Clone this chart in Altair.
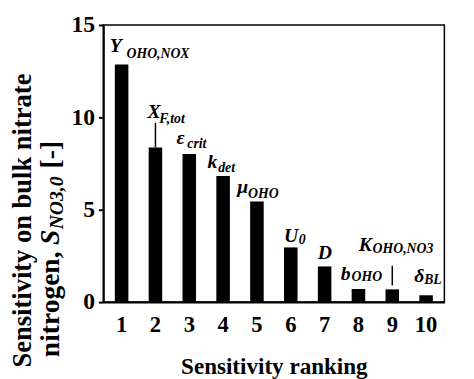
import altair as alt
import pandas as pd

# ---- data ----
ranks = [1, 2, 3, 4, 5, 6, 7, 8, 9, 10]
values = [12.86, 8.37, 8.01, 6.82, 5.44, 2.96, 1.93, 0.71, 0.69, 0.37]
symbols = ["Y", "X", "ε", "k", "μ", "U", "D", "b", "K", "δ"]
subscripts = ["OHO,NOX", "F,tot", "crit", "det", "OHO", "0", "", "OHO", "OHO,NO3", "BL"]
leader_ranks = [2, 9]
y_ticks = [0, 5, 10, 15]
x_title = "Sensitivity ranking"
y_title_line1 = "Sensitivity on bulk nitrate"
y_title_line2 = ["nitrogen,", "S", "NO3,0", "[-]"]

# ---- layout (pixels) ----
W, H = 347, 282
TOP = 22  # plot top in page pixels
PX_PER_UNIT = H / 15.0
FONT = "Liberation Serif"
# (main dx, main dy, sub dx, sub dy) relative to bar centre / bar top
label_offsets = [
    (-12, -13, 5, -7),
    (-8, -30, 4, -25),
    (-13, -10, -2, -6),
    (-16, -8, -5, -4),
    (-20, -9, -9, -4),
    (-7, -6, 8, -3),
    (-7, -8, 0, 0),
    (-18, -9, -7, -8),
    (-34, -39, -20, -37),
    (-12, -14, -2, -11),
]
leader_px = {2: (0, 25), 9: (4, 24)}

df = pd.DataFrame({"rank": [str(r) for r in ranks], "value": values,
                   "sym": symbols, "sub": subscripts})
rank_order = [str(r) for r in ranks]

x_enc = alt.X("rank:N", sort=rank_order,
              scale=alt.Scale(paddingInner=0.6, paddingOuter=0.34),
              axis=alt.Axis(title=None, labelAngle=0, ticks=False, labelPadding=12,
                            labelFont=FONT, labelFontSize=23, labelFontWeight="bold",
                            labelColor="black", domainColor="black", domainWidth=2))
y_scale = alt.Scale(domain=[0, 15], nice=False)
y_enc = alt.Y("value:Q", scale=y_scale,
              axis=alt.Axis(title=None, values=y_ticks, grid=False, tickSize=5,
                            tickWidth=2, tickColor="black", labelPadding=4,
                            labelFont=FONT, labelFontSize=24, labelFontWeight="bold",
                            labelColor="black", domainColor="black", domainWidth=2))

base = alt.Chart(df)
layers = [base.mark_bar(color="black").encode(x=x_enc, y=y_enc)]

for i, (r, s, sb) in enumerate(zip(ranks, symbols, subscripts)):
    mdx, mdy, sdx, sdy = label_offsets[i]
    c = alt.Chart(df[df["rank"] == str(r)])
    layers.append(c.mark_text(font=FONT, fontSize=20, fontWeight="bold", fontStyle="italic",
                              align="left", baseline="alphabetic", dx=mdx, dy=mdy,
                              color="black")
                  .encode(x=alt.X("rank:N", sort=rank_order),
                          y=alt.Y("value:Q", scale=y_scale), text="sym:N"))
    if sb:
        layers.append(c.mark_text(font=FONT, fontSize=14, fontWeight="bold", fontStyle="italic",
                                  align="left", baseline="alphabetic", dx=sdx, dy=sdy,
                                  color="black")
                      .encode(x=alt.X("rank:N", sort=rank_order),
                              y=alt.Y("value:Q", scale=y_scale), text="sub:N"))

for r in leader_ranks:
    a, b = leader_px[r]
    layers.append(
        alt.Chart(df[df["rank"] == str(r)])
        .transform_calculate(y0=f"datum.value + {a / PX_PER_UNIT}",
                             y1=f"datum.value + {b / PX_PER_UNIT}")
        .mark_rule(color="black", strokeWidth=1.5)
        .encode(x=alt.X("rank:N", sort=rank_order),
                y=alt.Y("y0:Q", scale=y_scale), y2="y1:Q"))


def txt(text, x, y, size, style="normal", angle=0, align="center"):
    kw = dict(text=text, font=FONT, fontSize=size, fontWeight="bold", fontStyle=style,
              align=align, baseline="alphabetic", color="black")
    if angle:
        kw["angle"] = angle
    return alt.Chart(df.head(1)).mark_text(**kw).encode(x=alt.value(x), y=alt.value(y))


# title pieces: (x baseline, y start) in page pixels, relative to plot origin below
layers.append(txt(x_title, 174, 377 - TOP, 23.5))
layers.append(txt(y_title_line1, 31 - 105, 221 - TOP, 27, angle=270))
layers.append(txt(y_title_line2[0], 60 - 105, 360 - TOP, 28, angle=270, align="left"))
layers.append(txt(y_title_line2[1], 60 - 105, 246 - TOP, 28, style="italic", angle=270, align="left"))
layers.append(txt(y_title_line2[2], 64 - 105, 230 - TOP, 20, style="italic", angle=270, align="left"))
layers.append(txt(y_title_line2[3], 60 - 105, 168 - TOP, 28, angle=270, align="left"))

chart = alt.layer(*layers).properties(
    width=W, height=H,
    autosize=alt.AutoSizeParams(type="none"),
    padding={"left": 97, "top": 14, "right": 22, "bottom": 75},
).configure_view(stroke="black", strokeWidth=1.5)

chart.save("out.html", embed_options={"renderer": "svg", "actions": False})
